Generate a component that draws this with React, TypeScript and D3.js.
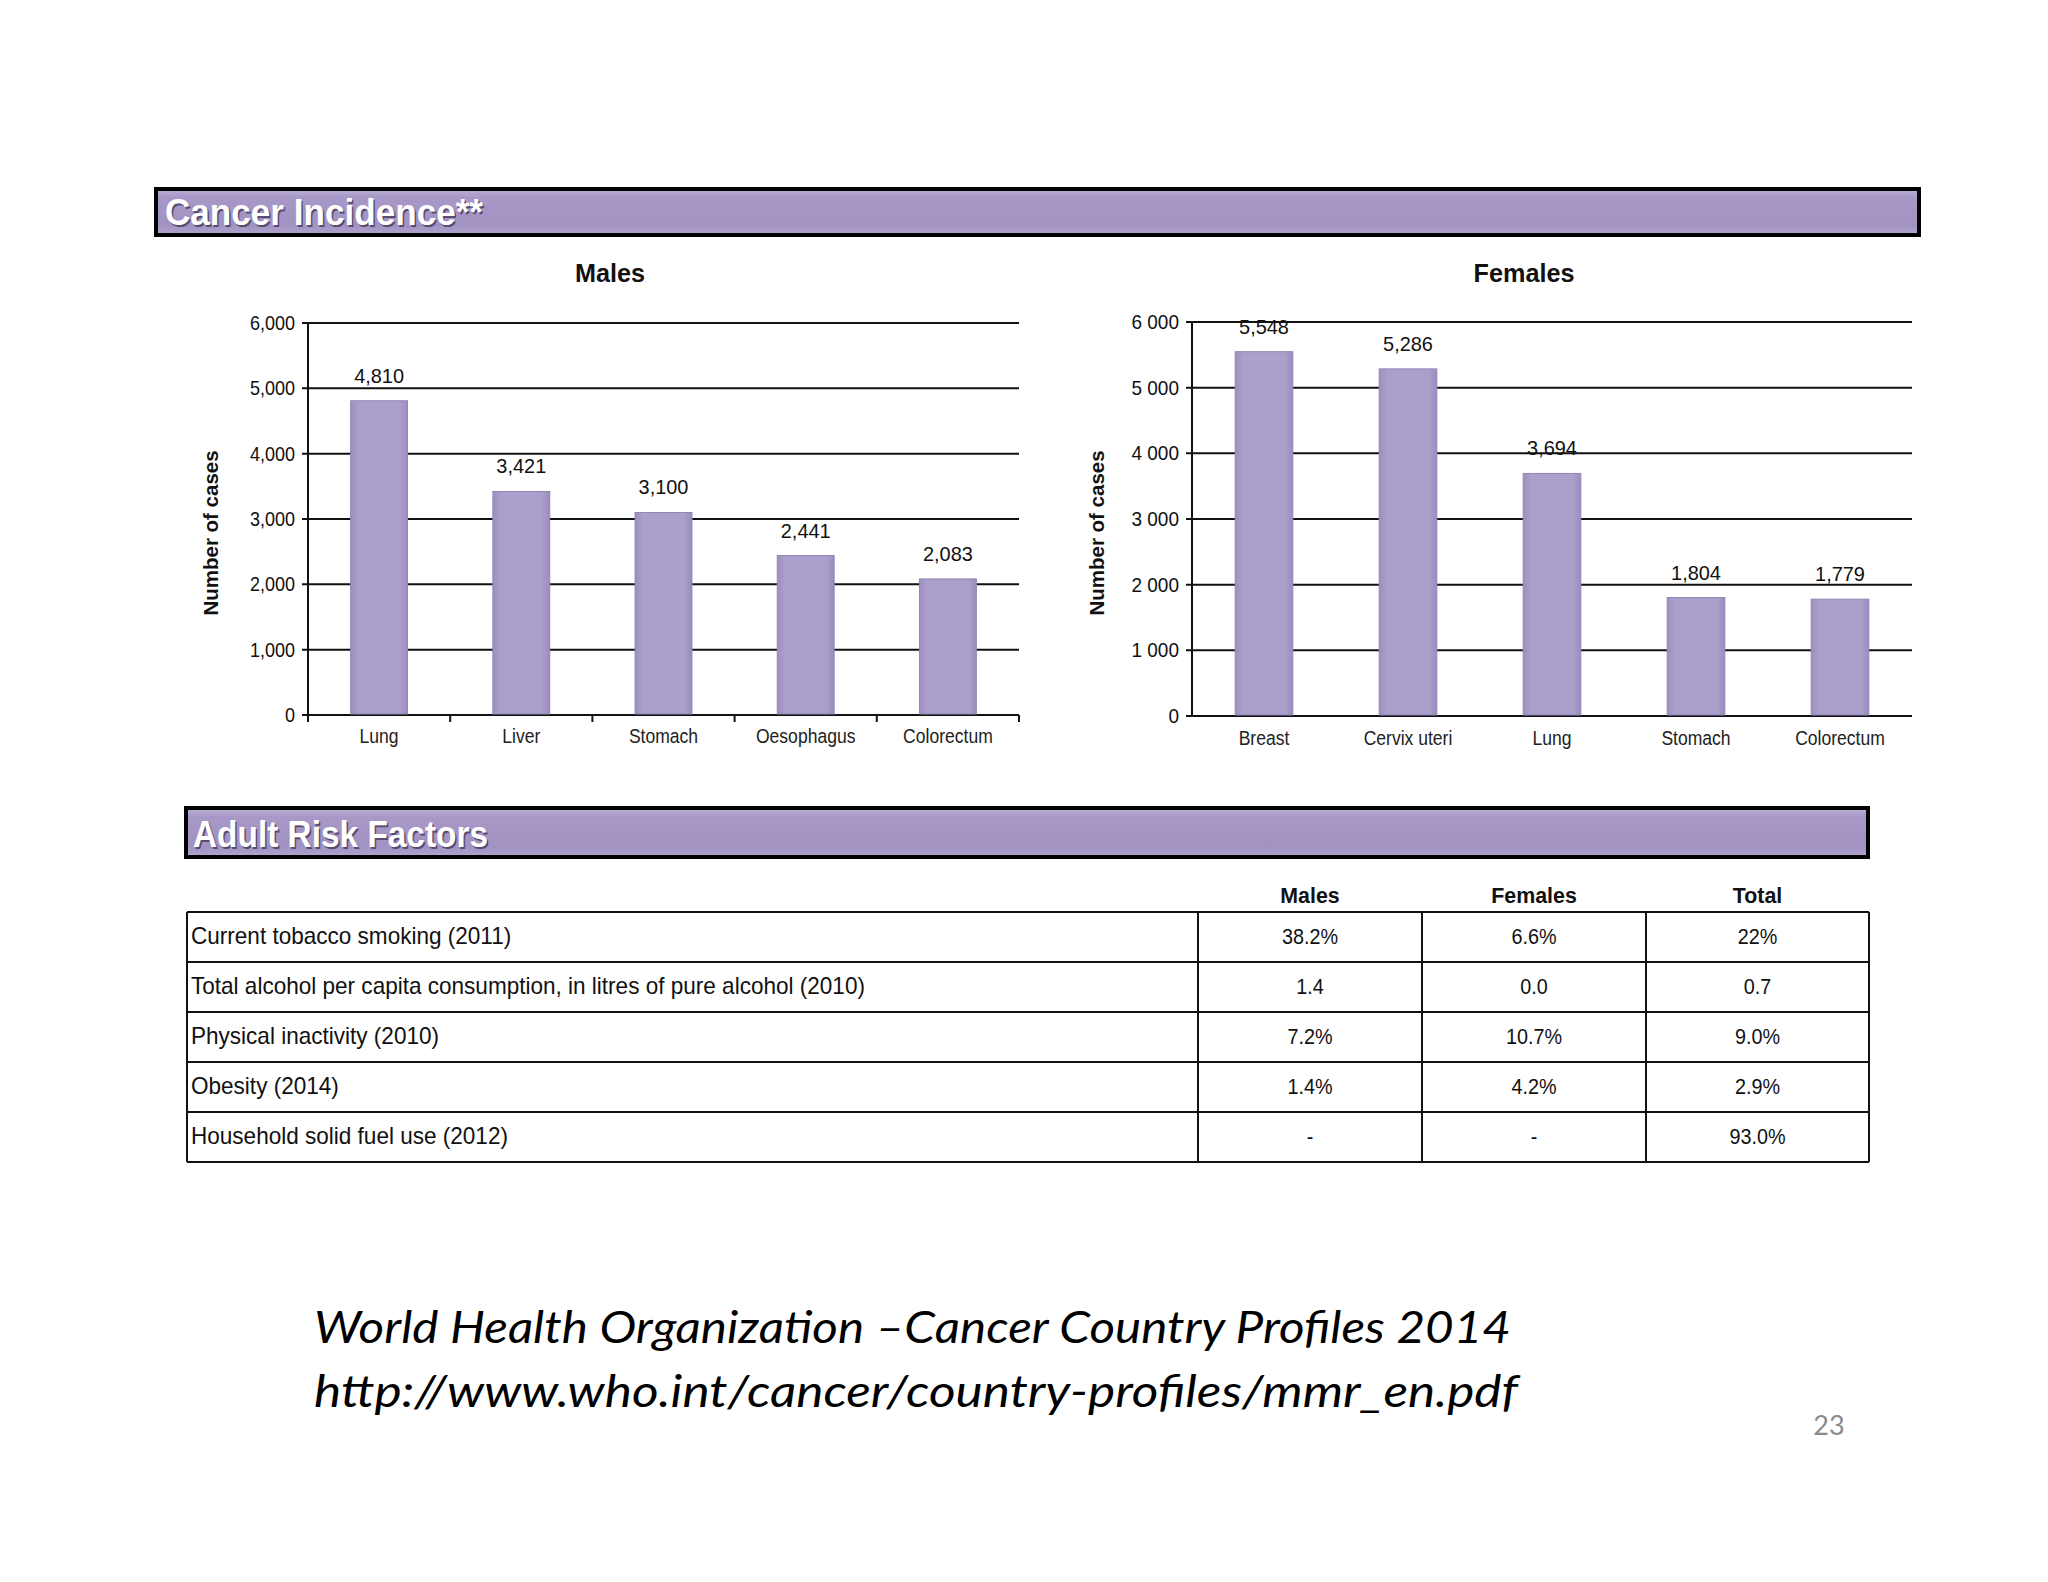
import React from "react";
import * as d3 from "d3";

// ---------- data ----------
const maleCategories = ["Lung", "Liver", "Stomach", "Oesophagus", "Colorectum"];
const maleValues = [4810, 3421, 3100, 2441, 2083];
const femaleCategories = ["Breast", "Cervix uteri", "Lung", "Stomach", "Colorectum"];
const femaleValues = [5548, 5286, 3694, 1804, 1779];
const yTicks = [0, 1000, 2000, 3000, 4000, 5000, 6000];

const riskColumns = ["Males", "Females", "Total"];
const riskFactors = [
  "Current tobacco smoking (2011)",
  "Total alcohol per capita consumption, in litres of pure alcohol (2010)",
  "Physical inactivity (2010)",
  "Obesity (2014)",
  "Household solid fuel use (2012)",
];
const riskMales = ["38.2%", "1.4", "7.2%", "1.4%", "-"];
const riskFemales = ["6.6%", "0.0", "10.7%", "4.2%", "-"];
const riskTotal = ["22%", "0.7", "9.0%", "2.9%", "93.0%"];

const footerLines = [
  "World Health Organization \u2013Cancer Country Profiles 2014",
  "http://www.who.int/cancer/country-profiles/mmr_en.pdf",
];
const pageNumber = "23";

// ---------- helpers ----------
const SANS = "'Liberation Sans', Arial, Helvetica, sans-serif";

function T(props: any) {
  const { x, y, size, weight, anchor, sx = 1, fill = "#111", family = SANS, rotate, children, fontStyle } = props;
  const tr = `translate(${x},${y})${rotate ? ` rotate(${rotate})` : ""} scale(${sx},1)`;
  return (
    <text
      transform={tr}
      fontSize={size}
      fontWeight={weight || "normal"}
      textAnchor={anchor || "start"}
      fill={fill}
      fontFamily={family}
      fontStyle={fontStyle}
    >
      {children}
    </text>
  );
}

const commaFmt = d3.format(",");
const spaceLocale = d3.formatLocale({ decimal: ".", thousands: " ", grouping: [3], currency: ["", ""] });
const spaceFmt = spaceLocale.format(",");

function BarChart(props: any) {
  const { categories, values, xRange, yRange, tickFmt, title, titleX, yTitleX, xTicks, labelBaseline, tickSx } = props;
  const [x0, x1] = xRange;
  const x = d3.scaleBand<string>().domain(categories).range(xRange).paddingInner(0.6).paddingOuter(0.3);
  const y = d3.scaleLinear().domain([0, 6000]).range(yRange);
  const step = x.step();
  const yMid = (y(0) + y(6000)) / 2;
  return (
    <g>
      <T x={titleX} y={282} size={26} weight="bold" anchor="middle" sx={0.97}>
        {title}
      </T>
      {yTicks.map((t) => (
        <g key={t}>
          <line x1={x0 - 6} x2={x1} y1={y(t)} y2={y(t)} stroke="#111" strokeWidth={2} />
          <T x={x0 - 13} y={y(t) + 7} size={20} anchor="end" sx={tickSx}>
            {t === 0 ? "0" : tickFmt(t)}
          </T>
        </g>
      ))}
      <line x1={x0} x2={x0} y1={y(6000)} y2={y(0) + 1} stroke="#111" strokeWidth={2} />
      {xTicks &&
        d3.range(categories.length + 1).map((i) => (
          <line key={i} x1={x0 + i * step} x2={x0 + i * step} y1={y(0)} y2={y(0) + 7} stroke="#111" strokeWidth={2} />
        ))}
      {categories.map((c: string, i: number) => (
        <rect
          key={c}
          x={x(c)}
          y={y(values[i])}
          width={x.bandwidth()}
          height={y(0) - y(values[i]) - 1}
          fill="url(#barGrad)"
          stroke="#9384b6"
          strokeWidth={1}
        />
      ))}
      {categories.map((c: string, i: number) => (
        <T key={c} x={(x(c) as number) + x.bandwidth() / 2} y={y(values[i]) - 18} size={21} anchor="middle" sx={0.95}>
          {commaFmt(values[i])}
        </T>
      ))}
      {categories.map((c: string) => (
        <T key={c} x={(x(c) as number) + x.bandwidth() / 2} y={labelBaseline} size={19.5} anchor="middle" sx={0.9} fill="#222">
          {c}
        </T>
      ))}
      <T x={yTitleX} y={yMid + 14} size={20.5} weight="bold" anchor="middle" rotate={-90}>
        Number of cases
      </T>
    </g>
  );
}

function Header(props: any) {
  const { x, y, w, h, label, textX, baseline, size, textLen } = props;
  return (
    <g>
      <rect x={x} y={y} width={w} height={h} fill="url(#hdrGrad)" stroke="#000" strokeWidth={4} />
      <text
        x={textX + 1.5}
        y={baseline + 1.5}
        fontSize={size}
        fontWeight="bold"
        fontFamily={SANS}
        fill="#3e3454"
        opacity={0.75}
        textLength={textLen}
        lengthAdjust="spacingAndGlyphs"
      >
        {label}
      </text>
      <text
        x={textX}
        y={baseline}
        fontSize={size}
        fontWeight="bold"
        fontFamily={SANS}
        fill="#ffffff"
        textLength={textLen}
        lengthAdjust="spacingAndGlyphs"
      >
        {label}
      </text>
    </g>
  );
}

function RiskTable() {
  const colEdges = [187, 1198, 1422, 1646, 1869];
  const rows = d3.scaleBand<string>().domain(riskFactors).range([912, 1162]);
  const cols = [riskMales, riskFemales, riskTotal];
  const colCenter = (j: number) => (colEdges[j + 1] + colEdges[j + 2]) / 2;
  return (
    <g>
      {riskColumns.map((c, j) => (
        <T key={c} x={colCenter(j)} y={903} size={23} weight="bold" anchor="middle" sx={0.93}>
          {c}
        </T>
      ))}
      {riskFactors.map((r, i) => {
        const top = rows(r) as number;
        const mid = top + rows.bandwidth() / 2;
        return (
          <g key={r}>
            <T x={191} y={mid + 7} size={23} sx={0.98}>
              {r}
            </T>
            {cols.map((col, j) => (
              <T key={j} x={colCenter(j)} y={mid + 6.5} size={22} anchor="middle" sx={0.9}>
                {col[i]}
              </T>
            ))}
          </g>
        );
      })}
      {[...riskFactors.map((r) => rows(r) as number), 1162].map((yy, i) => (
        <line key={"h" + i} x1={colEdges[0]} x2={colEdges[4]} y1={yy} y2={yy} stroke="#111" strokeWidth={2} />
      ))}
      {colEdges.map((xx, i) => (
        <line key={"v" + i} x1={xx} x2={xx} y1={912} y2={1162} stroke="#111" strokeWidth={2} />
      ))}
    </g>
  );
}

export default function App() {
  return (
    <svg
      width={2048}
      height={1582}
      viewBox="0 0 2048 1582"
      style={{ position: "absolute", left: 0, top: 0, display: "block", background: "#ffffff" }}
    >
      <defs>
        <linearGradient id="hdrGrad" x1="0" y1="0" x2="0" y2="1">
          <stop offset="0%" stopColor="#bcb1d6" />
          <stop offset="18%" stopColor="#a898c8" />
          <stop offset="80%" stopColor="#a292c2" />
          <stop offset="100%" stopColor="#b2a6ce" />
        </linearGradient>
        <linearGradient id="barGrad" x1="0" y1="0" x2="1" y2="0">
          <stop offset="0%" stopColor="#9d8fbf" />
          <stop offset="14%" stopColor="#ab9fcb" />
          <stop offset="86%" stopColor="#ab9fcb" />
          <stop offset="100%" stopColor="#9a8cbc" />
        </linearGradient>
      </defs>
      <rect x={0} y={0} width={2048} height={1582} fill="#ffffff" />

      <Header x={156} y={189} w={1763} h={46} label="Cancer Incidence**" textX={165} baseline={225} size={36} textLen={318} />

      <BarChart
        categories={maleCategories}
        values={maleValues}
        xRange={[308, 1019]}
        yRange={[715, 323]}
        tickFmt={commaFmt}
        title="Males"
        titleX={610}
        yTitleX={218}
        xTicks={true}
        labelBaseline={743}
        tickSx={0.9}
      />
      <BarChart
        categories={femaleCategories}
        values={femaleValues}
        xRange={[1192, 1912]}
        yRange={[716, 322]}
        tickFmt={spaceFmt}
        title="Females"
        titleX={1524}
        yTitleX={1104}
        xTicks={false}
        labelBaseline={745}
        tickSx={0.95}
      />

      <Header x={186} y={808} w={1682} h={49} label="Adult Risk Factors" textX={193} baseline={847} size={37} textLen={295} />
      <RiskTable />

      <text x={314} y={1343} fontSize={44} fontStyle="italic" fontFamily="Lato, 'Open Sans', sans-serif" fill="#000" textLength={1197} lengthAdjust="spacingAndGlyphs">
        {footerLines[0]}
      </text>
      <text x={314} y={1407} fontSize={44} fontStyle="italic" fontFamily="Lato, 'Open Sans', sans-serif" fill="#000" textLength={1204} lengthAdjust="spacingAndGlyphs">
        {footerLines[1]}
      </text>
      <T x={1829} y={1435} size={27} anchor="middle" fill="#8a8a8a" family="Lato, 'Open Sans', sans-serif">
        {pageNumber}
      </T>
    </svg>
  );
}
